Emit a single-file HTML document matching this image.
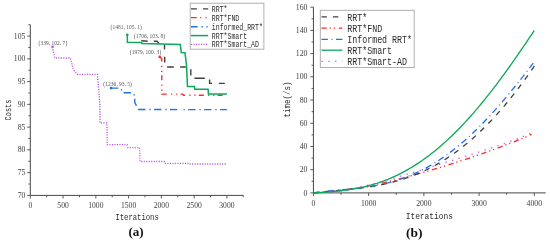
<!DOCTYPE html>
<html><head><meta charset="utf-8"><title>Costs and time vs iterations</title><style>
html,body{margin:0;padding:0;background:#fff;width:550px;height:242px;overflow:hidden}
svg{display:block}
.tl{font-family:"Liberation Serif",serif;fill:#404040}
.ms{font-family:"Liberation Serif",serif;fill:#2a2a2a}
.ann{font-family:"Liberation Serif",serif;fill:#555}
.mm{font-family:"Liberation Mono",monospace;fill:#2a2a2a}
.lab{font-family:"Liberation Serif",serif;font-weight:bold;fill:#111}
</style></head><body>
<svg width="550" height="242" viewBox="0 0 550 242">
<rect width="550" height="242" fill="#fff"/>
<path d="M30.3 24.72V195.4H243.28" fill="none" stroke="#474747" stroke-width="1"/>
<path d="M27.2 195.4H30.3M28.4 184.02H30.3M27.2 172.64H30.3M28.4 161.26H30.3M27.2 149.89H30.3M28.4 138.51H30.3M27.2 127.13H30.3M28.4 115.75H30.3M27.2 104.37H30.3M28.4 92.99H30.3M27.2 81.61H30.3M28.4 70.24H30.3M27.2 58.86H30.3M28.4 47.48H30.3M27.2 36.1H30.3M28.4 24.72H30.3M30.3 195.4V198.5M46.68 195.4V197.3M63.07 195.4V198.5M79.45 195.4V197.3M95.83 195.4V198.5M112.22 195.4V197.3M128.6 195.4V198.5M144.98 195.4V197.3M161.37 195.4V198.5M177.75 195.4V197.3M194.13 195.4V198.5M210.52 195.4V197.3M226.9 195.4V198.5M243.28 195.4V197.3" stroke="#474747" stroke-width="0.9"/>
<text x="25.4" y="197.85" text-anchor="end" class="tl" font-size="7.7">70</text>
<text x="25.4" y="175.09" text-anchor="end" class="tl" font-size="7.7">75</text>
<text x="25.4" y="152.34" text-anchor="end" class="tl" font-size="7.7">80</text>
<text x="25.4" y="129.58" text-anchor="end" class="tl" font-size="7.7">85</text>
<text x="25.4" y="106.82" text-anchor="end" class="tl" font-size="7.7">90</text>
<text x="25.4" y="84.06" text-anchor="end" class="tl" font-size="7.7">95</text>
<text x="25.4" y="61.31" text-anchor="end" class="tl" font-size="7.7">100</text>
<text x="25.4" y="38.55" text-anchor="end" class="tl" font-size="7.7">105</text>
<text x="30.3" y="207.5" text-anchor="middle" class="tl" font-size="7.6">0</text>
<text x="63.07" y="207.5" text-anchor="middle" class="tl" font-size="7.6">500</text>
<text x="95.83" y="207.5" text-anchor="middle" class="tl" font-size="7.6">1000</text>
<text x="128.6" y="207.5" text-anchor="middle" class="tl" font-size="7.6">1500</text>
<text x="161.37" y="207.5" text-anchor="middle" class="tl" font-size="7.6">2000</text>
<text x="194.13" y="207.5" text-anchor="middle" class="tl" font-size="7.6">2500</text>
<text x="226.9" y="207.5" text-anchor="middle" class="tl" font-size="7.6">3000</text>
<text class="mm" transform="translate(115.4 219.6) scale(1 1.36)" x="0" y="0" font-size="7.23" textLength="43.4" lengthAdjust="spacing" fill="#5c5c5c">Iterations</text>
<text class="mm" transform="translate(11.3 120.5) rotate(-90) scale(1 1.19)" x="0" y="0" font-size="7" textLength="21" lengthAdjust="spacing" fill="#5c5c5c">Costs</text>
<text x="128.4" y="236.3" class="lab" font-size="12.7" textLength="15.3" lengthAdjust="spacingAndGlyphs">(a)</text>
<path d="M52.3 46.8 L54.8 58 L70.4 58 L73.3 69.6 L77 74.3 L97.4 74.3 L99.9 104 L100 122.9 L106.9 122.9 L107.2 144.7 L127.1 144.7 L128 147.6 L139.6 147.6 L140 161.5 L164.9 161.5 L165.5 163.3 L188.4 163.3 L189 164 L226.9 164" fill="none" stroke="#b94fe6" stroke-width="1.3" stroke-dasharray="1.1 1.4"/>
<path d="M111 88.1 L120.9 88.1 L122.6 92.8 L133.2 92.8 L134.7 96 L134.7 102 L138.2 109.5" fill="none" stroke="#1f72e6" stroke-width="1.4" stroke-dasharray="7.3 3.9 1.3 3.4"/>
<path d="M138.2 109.5 L181 109.6" fill="none" stroke="#1f72e6" stroke-width="1.4" stroke-dasharray="7.3 3.9 1.3 3.4"/>
<path d="M181 109.6 L226.9 109.6" fill="none" stroke="#1f72e6" stroke-width="1.4" stroke-dasharray="7.3 3.9 1.3 3.4" stroke-dashoffset="8.7"/>
<path d="M159.7 56.9 L161.7 58.6 L161.8 94.1 L182.6 94.1 L183.6 95.3 L226.9 95.3" fill="none" stroke="#ff2a2a" stroke-width="1.4" stroke-dasharray="5 4.3 1.2 3.8 1.2 3.3" stroke-dashoffset="18.28"/>
<path d="M141.3 40.8 L147.7 41.3 M153.8 41.2 L157 41.2 L158.9 43.4 M164.5 44.3 L164.5 49.4 M164.7 56.8 L164.7 62.5 M167.1 67 L173.8 67 M180.2 67 L185.8 67 M190.8 69.3 L190.8 75.5 M194.4 78.2 L204.8 78.2 M209.6 79.6 L209.6 83.4 L212 83.4 M218.8 83.4 L224.8 83.4" fill="none" stroke="#404040" stroke-width="1.4"/>
<path d="M127.3 34.8 L127.4 42.3 L141.5 42.6 L142 43.6 L180.3 44.5 L181.3 52.6 L185 52.8 L186.5 65 L187.5 86.4 L194.5 86.4 L194.8 89.2 L208.1 89.2 L208.4 93.9 L226.9 93.9" fill="none" stroke="#0aa85a" stroke-width="1.5"/>
<circle cx="52.6" cy="46.8" r="1.3" fill="#b94fe6"/>
<circle cx="111" cy="88.1" r="1.3" fill="#1f72e6"/>
<circle cx="127.3" cy="34.8" r="1.3" fill="#0aa85a"/>
<circle cx="159.7" cy="56.9" r="1.3" fill="#ff2a2a"/>
<text class="ann" transform="translate(37.8 44.8) scale(0.92 1)" x="1.84 4.48 7.47 10.46 13.01 16.44 19.43 22.42 24.96 28.4 31.04" y="0" font-size="6" text-anchor="middle">(339,102.7)</text>
<text class="ann" transform="translate(109.7 29.3) scale(0.92 1)" x="1.84 4.48 7.47 10.46 13.45 15.99 19.43 22.42 25.41 27.95 31.39 34.03" y="0" font-size="6" text-anchor="middle">(1481,105.1)</text>
<text class="ann" transform="translate(132.9 37.6) scale(0.92 1)" x="1.84 4.48 7.47 10.46 13.45 15.99 19.43 22.42 25.41 27.95 31.39 34.03" y="0" font-size="6" text-anchor="middle">(1706,103.8)</text>
<text class="ann" transform="translate(129.1 54.2) scale(0.92 1)" x="1.84 4.48 7.47 10.46 13.45 15.99 19.43 22.42 25.41 27.95 31.39 34.03" y="0" font-size="6" text-anchor="middle">(1979,100.3)</text>
<text class="ann" transform="translate(102.4 86.2) scale(0.92 1)" x="1.84 4.48 7.47 10.46 13.45 15.99 19.43 22.42 24.96 28.4 31.04" y="0" font-size="6" text-anchor="middle">(1236,93.5)</text>
<rect x="190.2" y="3.2" width="73.7" height="46" fill="#fff" stroke="#a8a8a8" stroke-width="0.9"/>
<path d="M191 8.9H208.2" stroke="#404040" stroke-width="1.4" stroke-dasharray="5.8 6.3"/>
<text class="mm" transform="translate(211.8 11.8) scale(1 1.3)" x="0" y="0" font-size="6.55" textLength="15.72" lengthAdjust="spacing">RRT*</text>
<path d="M191 17.6H208.2" stroke="#ff2a2a" stroke-width="1.4" stroke-dasharray="5.8 3.4 1.2 4 1.3 10"/>
<text class="mm" transform="translate(211.8 20.5) scale(1 1.3)" x="0" y="0" font-size="6.55" textLength="27.51" lengthAdjust="spacing">RRT*FND</text>
<path d="M191 26.7H208.2" stroke="#1f72e6" stroke-width="1.4" stroke-dasharray="6.6 3.9 1.3 3.6 1.2 10"/>
<text class="mm" transform="translate(211.8 29.6) scale(1 1.3)" x="0" y="0" font-size="6.55" textLength="51.09" lengthAdjust="spacing">informed_RRT*</text>
<path d="M191 35.6H208.2" stroke="#0aa85a" stroke-width="1.5"/>
<text class="mm" transform="translate(211.8 38.5) scale(1 1.3)" x="0" y="0" font-size="6.55" textLength="35.37" lengthAdjust="spacing">RRT*Smart</text>
<path d="M191 44.3H208.2" stroke="#b94fe6" stroke-width="1.3" stroke-dasharray="1.1 1.4"/>
<text class="mm" transform="translate(211.8 47.2) scale(1 1.3)" x="0" y="0" font-size="6.55" textLength="47.16" lengthAdjust="spacing">RRT*Smart_AD</text>
<path d="M313.43 7.2V192.9H545.8" fill="none" stroke="#474747" stroke-width="1"/>
<path d="M310.33 192.9H313.43M311.53 181.29H313.43M310.33 169.69H313.43M311.53 158.08H313.43M310.33 146.48H313.43M311.53 134.87H313.43M310.33 123.26H313.43M311.53 111.66H313.43M310.33 100.05H313.43M311.53 88.45H313.43M310.33 76.84H313.43M311.53 65.23H313.43M310.33 53.63H313.43M311.53 42.02H313.43M310.33 30.42H313.43M311.53 18.81H313.43M310.33 7.2H313.43M313.43 192.9V196M341.04 192.9V194.8M368.65 192.9V196M396.26 192.9V194.8M423.87 192.9V196M451.48 192.9V194.8M479.09 192.9V196M506.7 192.9V194.8M534.31 192.9V196" stroke="#474747" stroke-width="0.9"/>
<text x="307.5" y="195.5" text-anchor="end" class="tl" font-size="7.8">0</text>
<text x="307.5" y="172.29" text-anchor="end" class="tl" font-size="7.8">20</text>
<text x="307.5" y="149.08" text-anchor="end" class="tl" font-size="7.8">40</text>
<text x="307.5" y="125.86" text-anchor="end" class="tl" font-size="7.8">60</text>
<text x="307.5" y="102.65" text-anchor="end" class="tl" font-size="7.8">80</text>
<text x="307.5" y="79.44" text-anchor="end" class="tl" font-size="7.8">100</text>
<text x="307.5" y="56.23" text-anchor="end" class="tl" font-size="7.8">120</text>
<text x="307.5" y="33.02" text-anchor="end" class="tl" font-size="7.8">140</text>
<text x="307.5" y="9.8" text-anchor="end" class="tl" font-size="7.8">160</text>
<text x="313.43" y="206.4" text-anchor="middle" class="tl" font-size="7.7">0</text>
<text x="368.65" y="206.4" text-anchor="middle" class="tl" font-size="7.7">1000</text>
<text x="423.87" y="206.4" text-anchor="middle" class="tl" font-size="7.7">2000</text>
<text x="479.09" y="206.4" text-anchor="middle" class="tl" font-size="7.7">3000</text>
<text x="534.31" y="206.4" text-anchor="middle" class="tl" font-size="7.7">4000</text>
<text class="mm" transform="translate(405.7 219) scale(1 1.2)" x="0" y="0" font-size="7.87" textLength="47.2" lengthAdjust="spacing" fill="#5c5c5c">Iterations</text>
<text class="mm" transform="translate(290 117.4) rotate(-90) scale(1 1.17)" x="0" y="0" font-size="7.5" textLength="36" lengthAdjust="spacing" fill="#5c5c5c">time(/s)</text>
<text x="405.9" y="237.2" class="lab" font-size="12.7" textLength="16.5" lengthAdjust="spacingAndGlyphs">(b)</text>
<path d="M313.43 192.9 L316.16 192.9 L318.88 192.86 L321.61 192.76 L324.34 192.62 L327.06 192.42 L329.79 192.18 L332.52 191.9 L335.24 191.58 L337.97 191.22 L340.69 190.83 L343.42 190.4 L346.15 189.93 L348.87 189.44 L351.6 188.91 L354.33 188.36 L357.05 187.79 L359.78 187.18 L362.51 186.56 L365.23 185.91 L367.96 185.25 L370.69 184.57 L373.41 183.86 L376.14 183.15 L378.87 182.42 L381.59 181.67 L384.32 180.92 L387.05 180.15 L389.77 179.37 L392.5 178.58 L395.22 177.79 L397.95 176.99 L400.68 176.18 L403.4 175.36 L406.13 174.54 L408.86 173.72 L411.58 172.89 L414.31 172.06 L417.04 171.22 L419.76 170.39 L422.49 169.55 L425.22 168.71 L427.94 167.87 L430.67 167.03 L433.4 166.19 L436.12 165.35 L438.85 164.5 L441.57 163.66 L444.3 162.82 L447.03 161.97 L449.75 161.13 L452.48 160.28 L455.21 159.44 L457.93 158.59 L460.66 157.74 L463.39 156.89 L466.11 156.04 L468.84 155.19 L471.57 154.33 L474.29 153.47 L477.02 152.6 L479.75 151.73 L482.47 150.85 L485.2 149.97 L487.93 149.08 L490.65 148.18 L493.38 147.27 L496.1 146.35 L498.83 145.43 L501.56 144.48 L504.28 143.53 L507.01 142.56 L509.74 141.58 L512.46 140.57 L515.19 139.55 L517.92 138.51 L520.64 137.45 L523.37 136.37 L526.1 135.26 L528.82 134.13 L531.55 132.97" fill="none" stroke="#c060f0" stroke-width="1.3" stroke-dasharray="1.4 5.4"/>
<path d="M313.43 192.9 L316.16 192.78 L318.88 192.63 L321.61 192.46 L324.34 192.26 L327.06 192.03 L329.79 191.78 L332.52 191.51 L335.24 191.21 L337.97 190.88 L340.69 190.54 L343.42 190.17 L346.15 189.79 L348.87 189.38 L351.6 188.95 L354.33 188.51 L357.05 188.05 L359.78 187.56 L362.51 187.07 L365.23 186.55 L367.96 186.02 L370.69 185.47 L373.41 184.91 L376.14 184.33 L378.87 183.74 L381.59 183.14 L384.32 182.52 L387.05 181.89 L389.77 181.24 L392.5 180.59 L395.22 179.92 L397.95 179.24 L400.68 178.55 L403.4 177.85 L406.13 177.13 L408.86 176.41 L411.58 175.68 L414.31 174.94 L417.04 174.19 L419.76 173.42 L422.49 172.65 L425.22 171.87 L427.94 171.09 L430.67 170.29 L433.4 169.48 L436.12 168.67 L438.85 167.85 L441.57 167.02 L444.3 166.18 L447.03 165.33 L449.75 164.48 L452.48 163.61 L455.21 162.74 L457.93 161.86 L460.66 160.98 L463.39 160.08 L466.11 159.18 L468.84 158.26 L471.57 157.34 L474.29 156.41 L477.02 155.47 L479.75 154.52 L482.47 153.57 L485.2 152.6 L487.93 151.63 L490.65 150.64 L493.38 149.64 L496.1 148.64 L498.83 147.62 L501.56 146.59 L504.28 145.55 L507.01 144.5 L509.74 143.44 L512.46 142.37 L515.19 141.28 L517.92 140.18 L520.64 139.07 L523.37 137.94 L526.1 136.8 L528.82 135.64 L531.55 134.47" fill="none" stroke="#ff2a2a" stroke-width="1.3" stroke-dasharray="5.2 3 1.2 3 1.2 3.7"/>
<path d="M313.43 192.9 L316.19 192.57 L318.95 192.25 L321.71 191.95 L324.47 191.67 L327.24 191.39 L330 191.13 L332.76 190.87 L335.52 190.61 L338.28 190.36 L341.04 190.1 L343.8 189.84 L346.56 189.57 L349.32 189.3 L352.08 189.01 L354.85 188.71 L357.61 188.39 L360.37 188.06 L363.13 187.71 L365.89 187.33 L368.65 186.93 L371.41 186.5 L374.17 186.05 L376.93 185.56 L379.69 185.05 L382.45 184.5 L385.22 183.91 L387.98 183.28 L390.74 182.62 L393.5 181.92 L396.26 181.17 L399.02 180.38 L401.78 179.54 L404.54 178.66 L407.3 177.73 L410.06 176.75 L412.83 175.71 L415.59 174.63 L418.35 173.49 L421.11 172.29 L423.87 171.04 L426.63 169.73 L429.39 168.36 L432.15 166.93 L434.91 165.45 L437.68 163.89 L440.44 162.28 L443.2 160.6 L445.96 158.86 L448.72 157.06 L451.48 155.18 L454.24 153.24 L457 151.23 L459.76 149.16 L462.52 147.01 L465.28 144.8 L468.05 142.51 L470.81 140.16 L473.57 137.73 L476.33 135.24 L479.09 132.67 L481.85 130.03 L484.61 127.32 L487.37 124.53 L490.13 121.68 L492.89 118.75 L495.66 115.74 L498.42 112.67 L501.18 109.52 L503.94 106.3 L506.7 103.01 L509.46 99.64 L512.22 96.2 L514.98 92.69 L517.74 89.11 L520.5 85.46 L523.27 81.73 L526.03 77.94 L528.79 74.07 L531.55 70.13 L534.31 66.13" fill="none" stroke="#404040" stroke-width="1.3" stroke-dasharray="5.4 6"/>
<path d="M313.43 192.9 L316.19 192.49 L318.95 192.12 L321.71 191.78 L324.47 191.46 L327.24 191.17 L330 190.89 L332.76 190.62 L335.52 190.37 L338.28 190.12 L341.04 189.87 L343.8 189.62 L346.56 189.36 L349.32 189.1 L352.08 188.82 L354.85 188.53 L357.61 188.22 L360.37 187.9 L363.13 187.54 L365.89 187.17 L368.65 186.76 L371.41 186.32 L374.17 185.84 L376.93 185.33 L379.69 184.79 L382.45 184.19 L385.22 183.56 L387.98 182.88 L390.74 182.15 L393.5 181.38 L396.26 180.55 L399.02 179.67 L401.78 178.74 L404.54 177.75 L407.3 176.7 L410.06 175.59 L412.83 174.43 L415.59 173.2 L418.35 171.91 L421.11 170.56 L423.87 169.14 L426.63 167.66 L429.39 166.12 L432.15 164.51 L434.91 162.83 L437.68 161.09 L440.44 159.28 L443.2 157.4 L445.96 155.45 L448.72 153.44 L451.48 151.36 L454.24 149.21 L457 147 L459.76 144.72 L462.52 142.38 L465.28 139.96 L468.05 137.49 L470.81 134.95 L473.57 132.34 L476.33 129.68 L479.09 126.95 L481.85 124.16 L484.61 121.31 L487.37 118.41 L490.13 115.45 L492.89 112.43 L495.66 109.36 L498.42 106.24 L501.18 103.07 L503.94 99.84 L506.7 96.58 L509.46 93.27 L512.22 89.91 L514.98 86.52 L517.74 83.09 L520.5 79.62 L523.27 76.12 L526.03 72.59 L528.79 69.03 L531.55 65.44 L534.31 61.84" fill="none" stroke="#1f72e6" stroke-width="1.3" stroke-dasharray="6.4 3.7 1 3.4"/>
<path d="M313.43 192.9 L316.19 192.75 L318.95 192.59 L321.71 192.43 L324.47 192.25 L327.24 192.06 L330 191.85 L332.76 191.62 L335.52 191.36 L338.28 191.08 L341.04 190.78 L343.8 190.44 L346.56 190.07 L349.32 189.66 L352.08 189.22 L354.85 188.74 L357.61 188.22 L360.37 187.65 L363.13 187.04 L365.89 186.38 L368.65 185.68 L371.41 184.92 L374.17 184.11 L376.93 183.25 L379.69 182.34 L382.45 181.37 L385.22 180.34 L387.98 179.25 L390.74 178.1 L393.5 176.89 L396.26 175.62 L399.02 174.29 L401.78 172.89 L404.54 171.43 L407.3 169.9 L410.06 168.31 L412.83 166.65 L415.59 164.92 L418.35 163.12 L421.11 161.26 L423.87 159.33 L426.63 157.32 L429.39 155.25 L432.15 153.11 L434.91 150.9 L437.68 148.62 L440.44 146.28 L443.2 143.86 L445.96 141.37 L448.72 138.82 L451.48 136.2 L454.24 133.51 L457 130.75 L459.76 127.93 L462.52 125.04 L465.28 122.08 L468.05 119.06 L470.81 115.98 L473.57 112.83 L476.33 109.62 L479.09 106.35 L481.85 103.02 L484.61 99.64 L487.37 96.19 L490.13 92.69 L492.89 89.14 L495.66 85.53 L498.42 81.87 L501.18 78.16 L503.94 74.4 L506.7 70.6 L509.46 66.75 L512.22 62.86 L514.98 58.93 L517.74 54.96 L520.5 50.95 L523.27 46.91 L526.03 42.84 L528.79 38.73 L531.55 34.6 L534.31 30.45" fill="none" stroke="#0aa85a" stroke-width="1.3"/>
<rect x="320.3" y="10.3" width="93.9" height="57.2" fill="#fff" stroke="#a8a8a8" stroke-width="0.9"/>
<path d="M321.5 16.9H342.3" stroke="#404040" stroke-width="1.3" stroke-dasharray="5.4 6"/>
<text class="mm" transform="translate(347.2 20.5) scale(1 1.28)" x="0" y="0" font-size="8.32" textLength="19.96" lengthAdjust="spacing">RRT*</text>
<path d="M321.5 28.1H342.3" stroke="#ff2a2a" stroke-width="1.3" stroke-dasharray="5.2 3 1.2 3 1.2 3.7"/>
<text class="mm" transform="translate(347.2 31.7) scale(1 1.28)" x="0" y="0" font-size="8.32" textLength="34.93" lengthAdjust="spacing">RRT*FND</text>
<path d="M321.5 39.3H342.3" stroke="#1f72e6" stroke-width="1.3" stroke-dasharray="6.4 3.7 1 3.4"/>
<text class="mm" transform="translate(347.2 42.9) scale(1 1.28)" x="0" y="0" font-size="8.32" textLength="64.87" lengthAdjust="spacing">Informed RRT*</text>
<path d="M321.5 50.2H342.3" stroke="#0aa85a" stroke-width="1.3"/>
<text class="mm" transform="translate(347.2 53.8) scale(1 1.28)" x="0" y="0" font-size="8.32" textLength="44.91" lengthAdjust="spacing">RRT*Smart</text>
<path d="M321.5 61.3H342.3" stroke="#c060f0" stroke-width="1.3" stroke-dasharray="1.4 5.4"/>
<text class="mm" transform="translate(347.2 64.9) scale(1 1.28)" x="0" y="0" font-size="8.32" textLength="59.88" lengthAdjust="spacing">RRT*Smart-AD</text>
</svg>
</body></html>
